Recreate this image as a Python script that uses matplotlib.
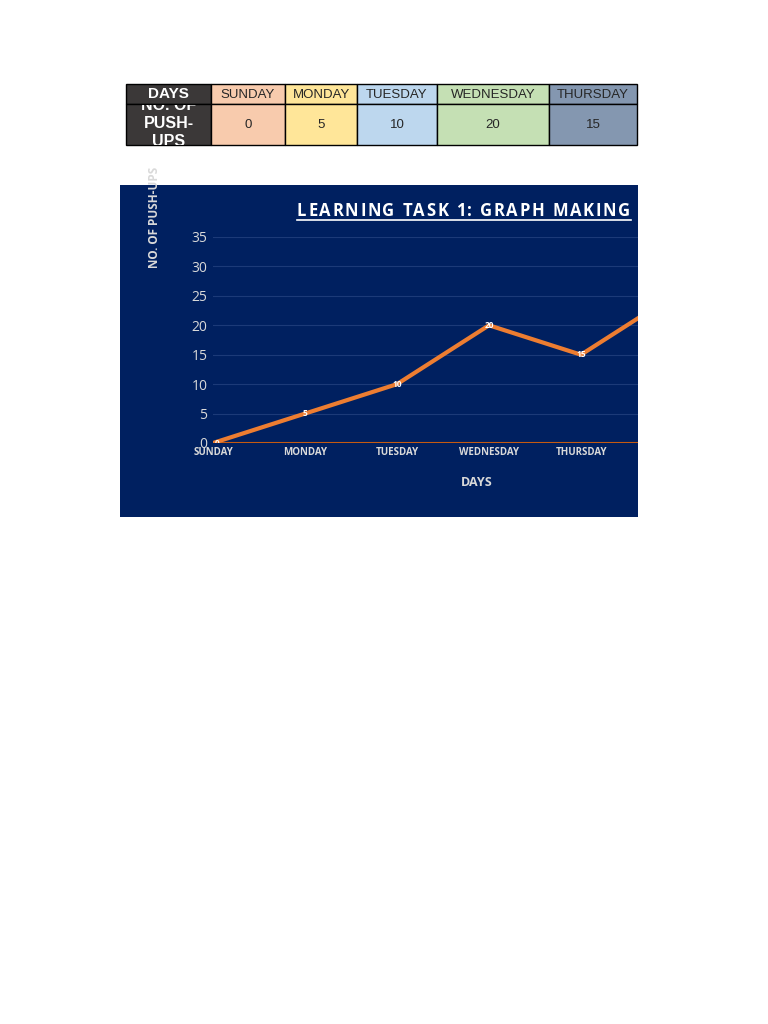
import matplotlib.pyplot as plt
from matplotlib.patches import Rectangle

# data
days = ['SUNDAY', 'MONDAY', 'TUESDAY', 'WEDNESDAY', 'THURSDAY', 'FRIDAY']
pushups = [0, 5, 10, 20, 15, 25]
table_days = days[:5]
table_vals = pushups[:5]
cell_colors = ['#f8cbad', '#ffe699', '#bdd7ee', '#c5e0b4', '#8497b0']
yticks = [0, 5, 10, 15, 20, 25, 30, 35]

W, H = 768, 1024
fig = plt.figure(figsize=(W / 100, H / 100), dpi=100)
fig.patch.set_facecolor('white')

# full figure axes in pixel coords for the table and the chart background
bg = fig.add_axes([0, 0, 1, 1])
bg.set_xlim(0, W)
bg.set_ylim(H, 0)
bg.axis('off')

navy = '#002060'
bg.add_patch(Rectangle((120, 185), 518, 332, facecolor=navy, edgecolor='none'))

# table
col_edges = [126, 211, 285, 357, 437, 549, 637]
row_edges = [84, 104, 145]
tfont = ['Liberation Sans', 'DejaVu Sans']
hdr = '#3b3838'
for r in range(2):
    y0, y1 = row_edges[r], row_edges[r + 1]
    bg.add_patch(Rectangle((col_edges[0], y0), col_edges[1] - col_edges[0], y1 - y0,
                           facecolor=hdr, edgecolor='black', lw=1))
    for i in range(5):
        x0, x1 = col_edges[i + 1], col_edges[i + 2]
        bg.add_patch(Rectangle((x0, y0), x1 - x0, y1 - y0,
                               facecolor=cell_colors[i], edgecolor='black', lw=1))
        txt = table_days[i] if r == 0 else str(table_vals[i])
        bg.text((x0 + x1) / 2, (y0 + y1) / 2 + 1, txt, ha='center', va='center',
                fontsize=9.5, color='#262626', family=tfont)

bg.text((col_edges[0] + col_edges[1]) / 2, 94, 'DAYS', ha='center', va='center',
        fontsize=11, color='white', family=tfont, fontweight='bold')
clip = Rectangle((col_edges[0], row_edges[1] + 1), col_edges[1] - col_edges[0],
                 row_edges[2] - row_edges[1] - 1, transform=bg.transData, facecolor='none')
hl = bg.text((col_edges[0] + col_edges[1]) / 2, 123, 'NO. OF\nPUSH-\nUPS', ha='center',
             va='center', fontsize=11.5, color='white', family=tfont, fontweight='bold',
             linespacing=1.25, clip_on=True)
hl.set_clip_path(clip)

# chart
x0p, x1p, y0p, y1p = 213, 638, 443, 237
ax = fig.add_axes([x0p / W, 1 - y0p / H, (x1p - x0p) / W, (y0p - y1p) / H])
ax.set_facecolor('none')
xs = list(range(len(days)))
step = 92
ax.set_xlim(0, (x1p - x0p) / step)
ax.set_ylim(0, 35)
ax.plot(xs, pushups, color='#ed7d31', lw=3, solid_capstyle='round', zorder=3)
ax.axhline(0, color='#c55a11', lw=1.5, zorder=2)
for v in yticks[1:]:
    ax.axhline(v, color='#1c3a78', lw=0.8, zorder=1)
for x, v in zip(xs, pushups):
    ax.text(x + (0.05 if v == 0 else 0), v, str(v), ha='center', va='center',
            fontsize=6, color='white', fontweight='bold', family='Open Sans',
            zorder=4, clip_on=True)

lab = '#d9d9d9'
ax.set_yticks(yticks)
ax.set_yticklabels([str(v) for v in yticks], fontsize=10, color=lab, family='Open Sans')
ax.set_xticks(xs[:5])
ax.set_xticklabels(days[:5], fontsize=7, color=lab, family='Open Sans', fontweight='bold')
ax.tick_params(length=0, axis='y', pad=4)
ax.tick_params(length=0, axis='x', pad=3)
for s in ax.spines.values():
    s.set_visible(False)

bg.text(477, 482, 'DAYS', ha='center', va='center', fontsize=9, color=lab,
        fontweight='bold', family='Open Sans')
bg.text(155, 217, 'NO. OF PUSH-UPS', ha='center', va='center', rotation=90,
        fontsize=8.5, color=lab, fontweight='bold', family='Open Sans')

# letter-spaced, underlined title
title = 'LEARNING TASK 1: GRAPH MAKING'
tx0, tx1, tbase = 297, 630, 216
renderer = fig.canvas.get_renderer()
chars = []
for ch in title:
    t = bg.text(tx0, tbase, ch, ha='left', va='baseline', fontsize=12,
                color='white', fontweight='bold', family='Open Sans')
    chars.append(t)
# measure advance widths
widths = []
for ch in title:
    probe = bg.text(0, 0, 'x' + ch + 'x', fontsize=12, fontweight='bold', family='Open Sans')
    probe2 = bg.text(0, 0, 'xx', fontsize=12, fontweight='bold', family='Open Sans')
    w = probe.get_window_extent(renderer).width - probe2.get_window_extent(renderer).width
    probe.remove()
    probe2.remove()
    widths.append(w)
natural = sum(widths)
gap = ((tx1 - tx0) - natural) / (len(title) - 1)
x = tx0
for t, w in zip(chars, widths):
    t.set_x(x)
    x += w + gap
bg.plot([tx0, tx1 + 1], [219.5, 219.5], color='white', lw=1.2)

fig.savefig('out.png', dpi=100, facecolor='white')
